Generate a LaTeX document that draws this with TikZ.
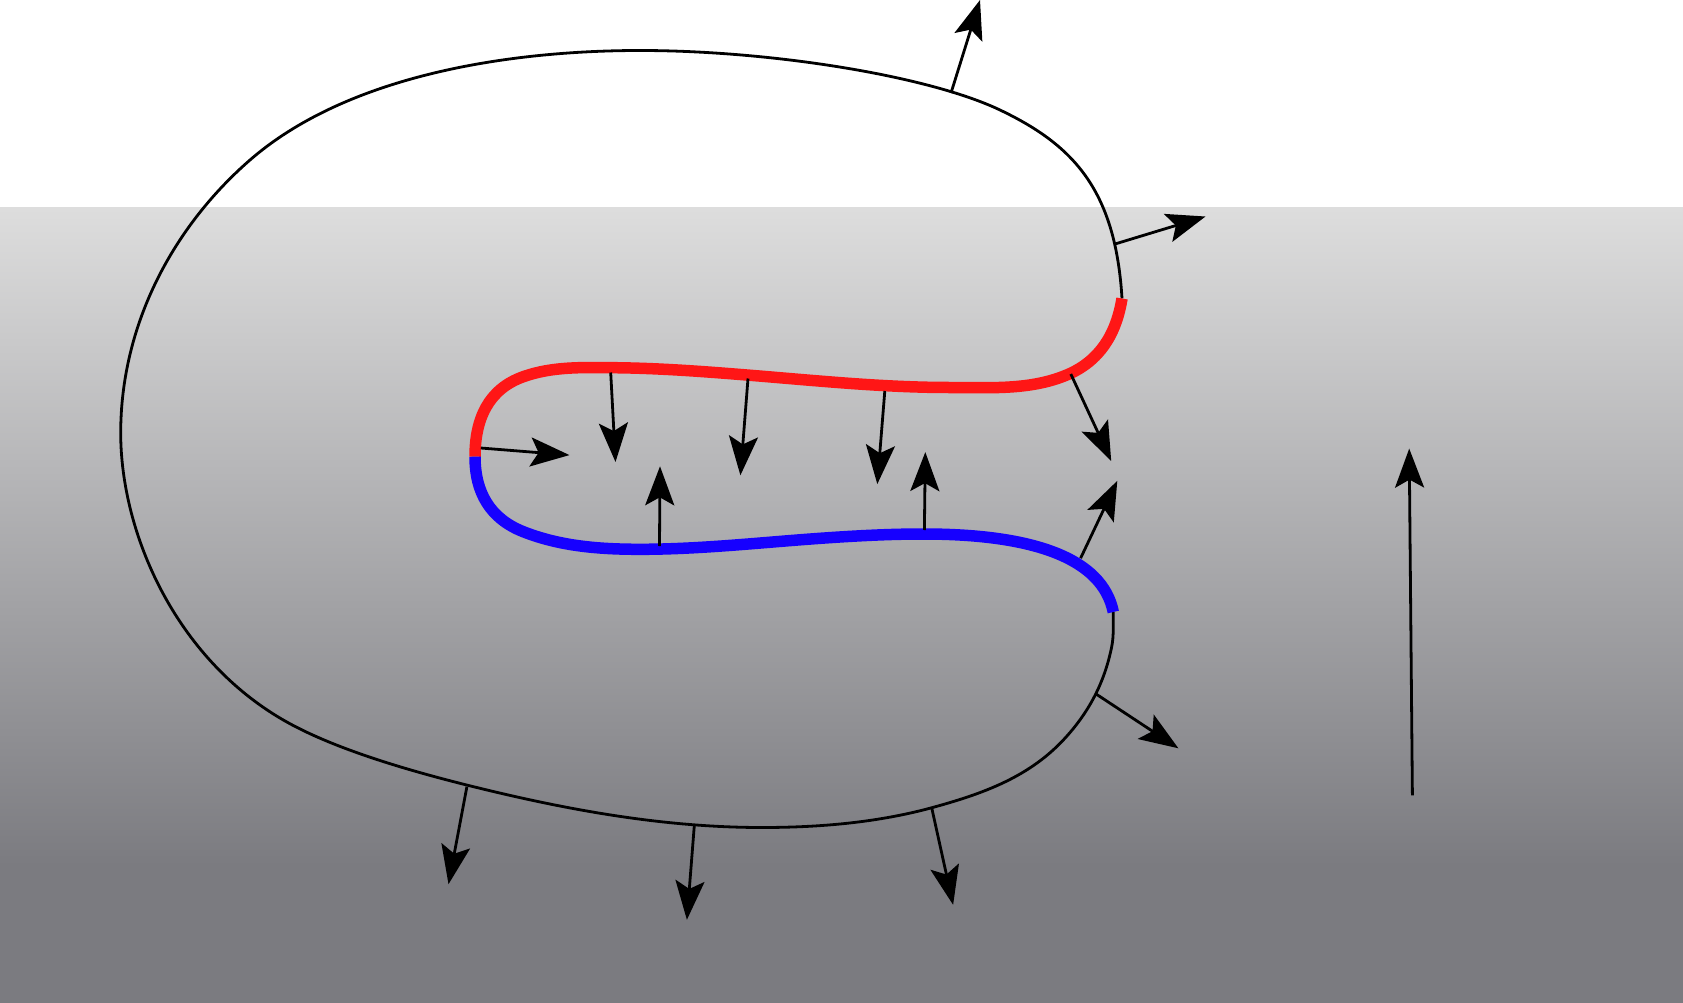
\documentclass[tikz,border=0pt]{standalone}
\usetikzlibrary{arrows.meta}
\definecolor{bgtop}{RGB}{221,221,221}
\definecolor{bgbot}{RGB}{123,123,128}
\definecolor{redline}{RGB}{255,22,22}
\definecolor{blueline}{RGB}{22,0,255}
\tikzset{
  outer/.style={line width=2.8pt, black},
  redband/.style={line width=11.5pt, redline, line cap=butt},
  blueband/.style={line width=11.5pt, blueline, line cap=butt},
  normalarrow/.style={line width=2.8pt, black, -{Stealth[length=39pt,width=29pt,inset=8pt]}}
}
\begin{document}
\begin{tikzpicture}[x=1pt,y=-1pt]
\useasboundingbox (0,0) rectangle (1683,1003);
% background
\fill[white] (0,0) rectangle (1683,1003);
\shade[top color=bgtop, bottom color=bgbot] (0,208) rectangle (1683,866);
\fill[bgbot] (0,865) rectangle (1683,1003);

% named points
\coordinate (rt) at (1122,298.5);
\coordinate (mid) at (475,456.7);
\coordinate (bt) at (1113.3,612);

% outer curve (from red end, over the top, round the left, to blue end)
\draw[outer] (rt)
  .. controls (1115.4,188.5) and (1072,144.4) .. (1000,110)
  .. controls (928,75.6) and (770,50.5) .. (640,50.5)
  .. controls (510,50.5) and (348.2,74.7) .. (250,160)
  .. controls (174.5,225.6) and (120.7,323) .. (120.7,433)
  .. controls (120.7,533) and (175.2,657.5) .. (283.3,720)
  .. controls (330.9,747.5) and (402.7,769) .. (466.7,785)
  .. controls (563.7,809.3) and (662,827.5) .. (762,827.5)
  .. controls (819.5,827.5) and (877.9,822.6) .. (933.3,807.3)
  .. controls (982.7,793.7) and (1028.2,777.4) .. (1063.3,740)
  .. controls (1088.6,713) and (1104.4,683) .. (1111.7,646.7)
  .. controls (1114,635.3) and (1113,623.6) .. (bt);

% red band
\draw[redband] (rt)
  .. controls (1116.3,333.8) and (1099.8,361.2) .. (1066.7,375)
  .. controls (1029.8,390.4) and (990,387.5) .. (950,387.5)
  .. controls (882,387.5) and (814.5,380.4) .. (746.7,375)
  .. controls (702.3,371.4) and (657.8,368.1) .. (613.3,367.7)
  .. controls (582.6,367.4) and (552.2,366.4) .. (523.3,376.7)
  .. controls (488.1,389.2) and (475,419.3) .. (mid);

% blue band
\draw[blueband] (mid)
  .. controls (475,492.4) and (490.1,518.6) .. (523.3,531.7)
  .. controls (560.5,546.4) and (600,549.3) .. (640,549.3)
  .. controls (695.7,549.3) and (751.2,543.5) .. (806.7,539.3)
  .. controls (845.5,536.4) and (884.4,534) .. (923.3,534)
  .. controls (1033.3,534) and (1102.3,558.1) .. (bt);

% arrow bases and tips
\coordinate (b1) at (951,93);       \coordinate (t1) at (980,0);
\coordinate (b2) at (1115,244);     \coordinate (t2) at (1205.5,216.5);
\coordinate (b3) at (1070.8,374);   \coordinate (t3) at (1111.2,461);
\coordinate (b4) at (1080.6,558.2); \coordinate (t4) at (1117.3,480.8);
\coordinate (b5) at (1095,693.3);   \coordinate (t5) at (1178.4,748.3);
\coordinate (b6) at (466.9,786.7);  \coordinate (t6) at (448.5,884.2);
\coordinate (b7) at (694.4,824.3);  \coordinate (t7) at (686.9,919.8);
\coordinate (b8) at (931.6,807.3);  \coordinate (t8) at (953.1,904.8);
\coordinate (b9) at (480.8,448);    \coordinate (t9) at (569.5,455.1);
\coordinate (b10) at (610.7,372.5); \coordinate (t10) at (615.5,462);
\coordinate (b11) at (748,378.5);   \coordinate (t11) at (740.4,475.3);
\coordinate (b12) at (884.8,391);   \coordinate (t12) at (877.3,484.1);
\coordinate (b13) at (659.5,546);   \coordinate (t13) at (660,466.3);
\coordinate (b14) at (924.4,530);   \coordinate (t14) at (925.3,452.1);
\coordinate (b15) at (1412.4,795.3);\coordinate (t15) at (1409.2,448.6);

\foreach \i in {1,...,15}{
  \draw[normalarrow] (b\i) -- (t\i);
}
\end{tikzpicture}
\end{document}
